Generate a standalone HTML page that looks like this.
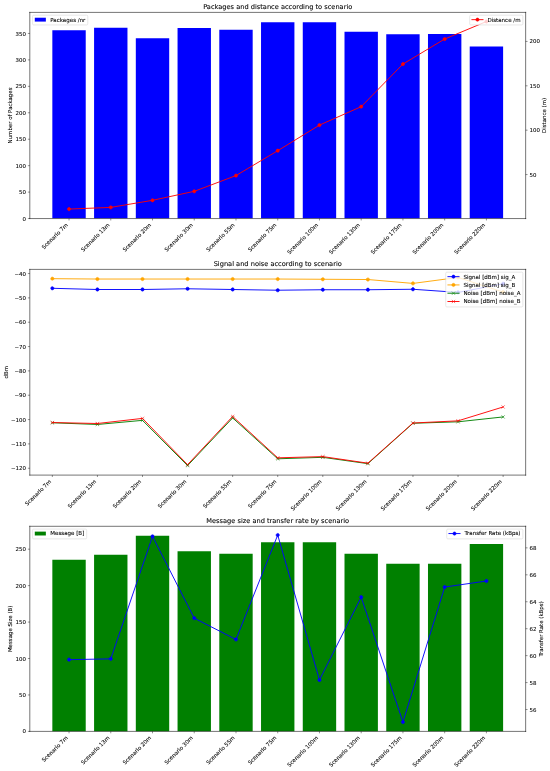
<!DOCTYPE html>
<html lang="en">
<head>
<meta charset="utf-8">
<title>Scenario charts</title>
<style>
html,body{margin:0;padding:0;background:#fff;}
body{width:550px;height:771px;overflow:hidden;font-family:"DejaVu Sans","Liberation Sans",sans-serif;}
svg{display:block;position:absolute;left:0;top:0;}
svg text{font-family:"DejaVu Sans","Liberation Sans",sans-serif;stroke:#000;stroke-width:0.15px;}
</style>
</head>
<body>
<svg width="550" height="771" viewBox="0 0 1008.0 1413.0327272727275" preserveAspectRatio="none">
 <defs>
  <style type="text/css">*{stroke-linejoin: round; stroke-linecap: butt}</style>
 </defs>
 <g id="figure_1">
  <g id="patch_1">
   <path d="M 0 1413.032727 
L 1008 1413.032727 
L 1008 0 
L 0 0 
z
" style="fill: #ffffff"/>
  </g>
  <g id="axes_1">
   <g id="patch_2">
    <path d="M 54.615273 400.542545 
L 963.373091 400.542545 
L 963.373091 22.725818 
L 54.615273 22.725818 
z
" style="fill: #ffffff"/>
   </g>
   <g id="patch_3">
    <path d="M 95.922446 400.542545 
L 157.118259 400.542545 
L 157.118259 55.486735 
L 95.922446 55.486735 
z
" clip-path="url(#pcf4a3bb9f0)" style="fill: #0000ff"/>
   </g>
   <g id="patch_4">
    <path d="M 172.417212 400.542545 
L 233.613025 400.542545 
L 233.613025 50.640446 
L 172.417212 50.640446 
z
" clip-path="url(#pcf4a3bb9f0)" style="fill: #0000ff"/>
   </g>
   <g id="patch_5">
    <path d="M 248.911978 400.542545 
L 310.107791 400.542545 
L 310.107791 70.025603 
L 248.911978 70.025603 
z
" clip-path="url(#pcf4a3bb9f0)" style="fill: #0000ff"/>
   </g>
   <g id="patch_6">
    <path d="M 325.406744 400.542545 
L 386.602556 400.542545 
L 386.602556 51.512778 
L 325.406744 51.512778 
z
" clip-path="url(#pcf4a3bb9f0)" style="fill: #0000ff"/>
   </g>
   <g id="patch_7">
    <path d="M 401.90151 400.542545 
L 463.097322 400.542545 
L 463.097322 54.711329 
L 401.90151 54.711329 
z
" clip-path="url(#pcf4a3bb9f0)" style="fill: #0000ff"/>
   </g>
   <g id="patch_8">
    <path d="M 478.396275 400.542545 
L 539.592088 400.542545 
L 539.592088 40.754015 
L 478.396275 40.754015 
z
" clip-path="url(#pcf4a3bb9f0)" style="fill: #0000ff"/>
   </g>
   <g id="patch_9">
    <path d="M 554.891041 400.542545 
L 616.086854 400.542545 
L 616.086854 40.754015 
L 554.891041 40.754015 
z
" clip-path="url(#pcf4a3bb9f0)" style="fill: #0000ff"/>
   </g>
   <g id="patch_10">
    <path d="M 631.385807 400.542545 
L 692.58162 400.542545 
L 692.58162 58.394509 
L 631.385807 58.394509 
z
" clip-path="url(#pcf4a3bb9f0)" style="fill: #0000ff"/>
   </g>
   <g id="patch_11">
    <path d="M 707.880573 400.542545 
L 769.076386 400.542545 
L 769.076386 62.853095 
L 707.880573 62.853095 
z
" clip-path="url(#pcf4a3bb9f0)" style="fill: #0000ff"/>
   </g>
   <g id="patch_12">
    <path d="M 784.375339 400.542545 
L 845.571152 400.542545 
L 845.571152 62.27154 
L 784.375339 62.27154 
z
" clip-path="url(#pcf4a3bb9f0)" style="fill: #0000ff"/>
   </g>
   <g id="patch_13">
    <path d="M 860.870105 400.542545 
L 922.065917 400.542545 
L 922.065917 85.242952 
L 860.870105 85.242952 
z
" clip-path="url(#pcf4a3bb9f0)" style="fill: #0000ff"/>
   </g>
   <g id="matplotlib.axis_1">
    <g id="xtick_1">
     <g id="line2d_1">
      <g>
       <path d="M 0 0 L 0 3.5" transform="translate(126.520353 400.542545)" style="stroke: #000000; stroke-width: 0.8; stroke: #000000; stroke-width: 0.8"/>
      </g>
     </g>
     <g id="text_1">
      <text style="font-size: 10px; font-family: 'DejaVu Sans', 'Liberation Sans', sans-serif" transform="translate(80.675526 457.289717) rotate(-45)">Scenario 7m</text>
     </g>
    </g>
    <g id="xtick_2">
     <g id="line2d_2">
      <g>
       <path d="M 0 0 L 0 3.5" transform="translate(203.015118 400.542545)" style="stroke: #000000; stroke-width: 0.8; stroke: #000000; stroke-width: 0.8"/>
      </g>
     </g>
     <g id="text_2">
      <text style="font-size: 10px; font-family: 'DejaVu Sans', 'Liberation Sans', sans-serif" transform="translate(152.671325 461.788684) rotate(-45)">Scenario 13m</text>
     </g>
    </g>
    <g id="xtick_3">
     <g id="line2d_3">
      <g>
       <path d="M 0 0 L 0 3.5" transform="translate(279.509884 400.542545)" style="stroke: #000000; stroke-width: 0.8; stroke: #000000; stroke-width: 0.8"/>
      </g>
     </g>
     <g id="text_3">
      <text style="font-size: 10px; font-family: 'DejaVu Sans', 'Liberation Sans', sans-serif" transform="translate(229.166091 461.788684) rotate(-45)">Scenario 20m</text>
     </g>
    </g>
    <g id="xtick_4">
     <g id="line2d_4">
      <g>
       <path d="M 0 0 L 0 3.5" transform="translate(356.00465 400.542545)" style="stroke: #000000; stroke-width: 0.8; stroke: #000000; stroke-width: 0.8"/>
      </g>
     </g>
     <g id="text_4">
      <text style="font-size: 10px; font-family: 'DejaVu Sans', 'Liberation Sans', sans-serif" transform="translate(305.660857 461.788684) rotate(-45)">Scenario 30m</text>
     </g>
    </g>
    <g id="xtick_5">
     <g id="line2d_5">
      <g>
       <path d="M 0 0 L 0 3.5" transform="translate(432.499416 400.542545)" style="stroke: #000000; stroke-width: 0.8; stroke: #000000; stroke-width: 0.8"/>
      </g>
     </g>
     <g id="text_5">
      <text style="font-size: 10px; font-family: 'DejaVu Sans', 'Liberation Sans', sans-serif" transform="translate(382.155623 461.788684) rotate(-45)">Scenario 55m</text>
     </g>
    </g>
    <g id="xtick_6">
     <g id="line2d_6">
      <g>
       <path d="M 0 0 L 0 3.5" transform="translate(508.994182 400.542545)" style="stroke: #000000; stroke-width: 0.8; stroke: #000000; stroke-width: 0.8"/>
      </g>
     </g>
     <g id="text_6">
      <text style="font-size: 10px; font-family: 'DejaVu Sans', 'Liberation Sans', sans-serif" transform="translate(458.650389 461.788684) rotate(-45)">Scenario 75m</text>
     </g>
    </g>
    <g id="xtick_7">
     <g id="line2d_7">
      <g>
       <path d="M 0 0 L 0 3.5" transform="translate(585.488948 400.542545)" style="stroke: #000000; stroke-width: 0.8; stroke: #000000; stroke-width: 0.8"/>
      </g>
     </g>
     <g id="text_7">
      <text style="font-size: 10px; font-family: 'DejaVu Sans', 'Liberation Sans', sans-serif" transform="translate(530.646188 466.287651) rotate(-45)">Scenario 100m</text>
     </g>
    </g>
    <g id="xtick_8">
     <g id="line2d_8">
      <g>
       <path d="M 0 0 L 0 3.5" transform="translate(661.983713 400.542545)" style="stroke: #000000; stroke-width: 0.8; stroke: #000000; stroke-width: 0.8"/>
      </g>
     </g>
     <g id="text_8">
      <text style="font-size: 10px; font-family: 'DejaVu Sans', 'Liberation Sans', sans-serif" transform="translate(607.140953 466.287651) rotate(-45)">Scenario 130m</text>
     </g>
    </g>
    <g id="xtick_9">
     <g id="line2d_9">
      <g>
       <path d="M 0 0 L 0 3.5" transform="translate(738.478479 400.542545)" style="stroke: #000000; stroke-width: 0.8; stroke: #000000; stroke-width: 0.8"/>
      </g>
     </g>
     <g id="text_9">
      <text style="font-size: 10px; font-family: 'DejaVu Sans', 'Liberation Sans', sans-serif" transform="translate(683.635719 466.287651) rotate(-45)">Scenario 175m</text>
     </g>
    </g>
    <g id="xtick_10">
     <g id="line2d_10">
      <g>
       <path d="M 0 0 L 0 3.5" transform="translate(814.973245 400.542545)" style="stroke: #000000; stroke-width: 0.8; stroke: #000000; stroke-width: 0.8"/>
      </g>
     </g>
     <g id="text_10">
      <text style="font-size: 10px; font-family: 'DejaVu Sans', 'Liberation Sans', sans-serif" transform="translate(760.130485 466.287651) rotate(-45)">Scenario 200m</text>
     </g>
    </g>
    <g id="xtick_11">
     <g id="line2d_11">
      <g>
       <path d="M 0 0 L 0 3.5" transform="translate(891.468011 400.542545)" style="stroke: #000000; stroke-width: 0.8; stroke: #000000; stroke-width: 0.8"/>
      </g>
     </g>
     <g id="text_11">
      <text style="font-size: 10px; font-family: 'DejaVu Sans', 'Liberation Sans', sans-serif" transform="translate(836.625251 466.287651) rotate(-45)">Scenario 220m</text>
     </g>
    </g>
   </g>
   <g id="matplotlib.axis_2">
    <g id="ytick_1">
     <g id="line2d_12">
      <g>
       <path d="M 0 0 L -3.5 0" transform="translate(54.615273 400.542545)" style="stroke: #000000; stroke-width: 0.8; stroke: #000000; stroke-width: 0.8"/>
      </g>
     </g>
     <g id="text_12">
      <text style="font-size: 10px; font-family: 'DejaVu Sans', 'Liberation Sans', sans-serif; text-anchor: end" x="47.615273" y="404.341764" transform="rotate(-0 47.615273 404.341764)">0</text>
     </g>
    </g>
    <g id="ytick_2">
     <g id="line2d_13">
      <g>
       <path d="M 0 0 L -3.5 0" transform="translate(54.615273 352.079651)" style="stroke: #000000; stroke-width: 0.8; stroke: #000000; stroke-width: 0.8"/>
      </g>
     </g>
     <g id="text_13">
      <text style="font-size: 10px; font-family: 'DejaVu Sans', 'Liberation Sans', sans-serif; text-anchor: end" x="47.615273" y="355.878869" transform="rotate(-0 47.615273 355.878869)">50</text>
     </g>
    </g>
    <g id="ytick_3">
     <g id="line2d_14">
      <g>
       <path d="M 0 0 L -3.5 0" transform="translate(54.615273 303.616756)" style="stroke: #000000; stroke-width: 0.8; stroke: #000000; stroke-width: 0.8"/>
      </g>
     </g>
     <g id="text_14">
      <text style="font-size: 10px; font-family: 'DejaVu Sans', 'Liberation Sans', sans-serif; text-anchor: end" x="47.615273" y="307.415975" transform="rotate(-0 47.615273 307.415975)">100</text>
     </g>
    </g>
    <g id="ytick_4">
     <g id="line2d_15">
      <g>
       <path d="M 0 0 L -3.5 0" transform="translate(54.615273 255.153861)" style="stroke: #000000; stroke-width: 0.8; stroke: #000000; stroke-width: 0.8"/>
      </g>
     </g>
     <g id="text_15">
      <text style="font-size: 10px; font-family: 'DejaVu Sans', 'Liberation Sans', sans-serif; text-anchor: end" x="47.615273" y="258.95308" transform="rotate(-0 47.615273 258.95308)">150</text>
     </g>
    </g>
    <g id="ytick_5">
     <g id="line2d_16">
      <g>
       <path d="M 0 0 L -3.5 0" transform="translate(54.615273 206.690967)" style="stroke: #000000; stroke-width: 0.8; stroke: #000000; stroke-width: 0.8"/>
      </g>
     </g>
     <g id="text_16">
      <text style="font-size: 10px; font-family: 'DejaVu Sans', 'Liberation Sans', sans-serif; text-anchor: end" x="47.615273" y="210.490185" transform="rotate(-0 47.615273 210.490185)">200</text>
     </g>
    </g>
    <g id="ytick_6">
     <g id="line2d_17">
      <g>
       <path d="M 0 0 L -3.5 0" transform="translate(54.615273 158.228072)" style="stroke: #000000; stroke-width: 0.8; stroke: #000000; stroke-width: 0.8"/>
      </g>
     </g>
     <g id="text_17">
      <text style="font-size: 10px; font-family: 'DejaVu Sans', 'Liberation Sans', sans-serif; text-anchor: end" x="47.615273" y="162.027291" transform="rotate(-0 47.615273 162.027291)">250</text>
     </g>
    </g>
    <g id="ytick_7">
     <g id="line2d_18">
      <g>
       <path d="M 0 0 L -3.5 0" transform="translate(54.615273 109.765177)" style="stroke: #000000; stroke-width: 0.8; stroke: #000000; stroke-width: 0.8"/>
      </g>
     </g>
     <g id="text_18">
      <text style="font-size: 10px; font-family: 'DejaVu Sans', 'Liberation Sans', sans-serif; text-anchor: end" x="47.615273" y="113.564396" transform="rotate(-0 47.615273 113.564396)">300</text>
     </g>
    </g>
    <g id="ytick_8">
     <g id="line2d_19">
      <g>
       <path d="M 0 0 L -3.5 0" transform="translate(54.615273 61.302282)" style="stroke: #000000; stroke-width: 0.8; stroke: #000000; stroke-width: 0.8"/>
      </g>
     </g>
     <g id="text_19">
      <text style="font-size: 10px; font-family: 'DejaVu Sans', 'Liberation Sans', sans-serif; text-anchor: end" x="47.615273" y="65.101501" transform="rotate(-0 47.615273 65.101501)">350</text>
     </g>
    </g>
    <g id="text_20">
     <text style="font-size: 10px; font-family: 'DejaVu Sans', 'Liberation Sans', sans-serif; text-anchor: middle" x="22.448085" y="211.634182" transform="rotate(-90 22.448085 211.634182)">Number of Packages</text>
    </g>
   </g>
   <g id="patch_14">
    <path d="M 54.615273 400.542545 
L 54.615273 22.725818 
" style="fill: none; stroke: #000000; stroke-linejoin: miter; stroke-linecap: square"/>
   </g>
   <g id="patch_15">
    <path d="M 963.373091 400.542545 
L 963.373091 22.725818 
" style="fill: none; stroke: #000000; stroke-linejoin: miter; stroke-linecap: square"/>
   </g>
   <g id="patch_16">
    <path d="M 54.615273 400.542545 
L 963.373091 400.542545 
" style="fill: none; stroke: #000000; stroke-linejoin: miter; stroke-linecap: square"/>
   </g>
   <g id="patch_17">
    <path d="M 54.615273 22.725818 
L 963.373091 22.725818 
" style="fill: none; stroke: #000000; stroke-linejoin: miter; stroke-linecap: square"/>
   </g>
   <g id="text_21">
    <text style="font-size: 12.18px; font-family: 'DejaVu Sans', 'Liberation Sans', sans-serif; text-anchor: middle" x="508.994182" y="16.725818" transform="rotate(-0 508.994182 16.725818)">Packages and distance according to scenario</text>
   </g>
   <g id="legend_1">
    <g id="patch_18">
     <path d="M 61.720273 45.744115 
L 158.811366 45.744115 
Q 160.841366 45.744115 160.841366 43.714115 
L 160.841366 29.830818 
Q 160.841366 27.800818 158.811366 27.800818 
L 61.720273 27.800818 
Q 59.690273 27.800818 59.690273 29.830818 
L 59.690273 43.714115 
Q 59.690273 45.744115 61.720273 45.744115 
z
" style="fill: #ffffff; opacity: 0.8; stroke: #cccccc; stroke-linejoin: miter"/>
    </g>
    <g id="patch_19">
     <path d="M 63.750273 39.573232 
L 84.050273 39.573232 
L 84.050273 32.468232 
L 63.750273 32.468232 
z
" style="fill: #0000ff"/>
    </g>
    <g id="text_22">
     <text style="font-size: 10.15px; font-family: 'DejaVu Sans', 'Liberation Sans', sans-serif; text-anchor: start" x="92.170273" y="39.573232" transform="rotate(-0 92.170273 39.573232)">Packages /nr</text>
    </g>
   </g>
  </g>
  <g id="axes_2">
   <g id="matplotlib.axis_3">
    <g id="ytick_9">
     <g id="line2d_20">
      <g>
       <path d="M 0 0 L 3.5 0" transform="translate(963.373091 319.923425)" style="stroke: #000000; stroke-width: 0.8; stroke: #000000; stroke-width: 0.8"/>
      </g>
     </g>
     <g id="text_23">
      <text style="font-size: 10px; font-family: 'DejaVu Sans', 'Liberation Sans', sans-serif; text-anchor: start" x="970.373091" y="323.722643" transform="rotate(-0 970.373091 323.722643)">50</text>
     </g>
    </g>
    <g id="ytick_10">
     <g id="line2d_21">
      <g>
       <path d="M 0 0 L 3.5 0" transform="translate(963.373091 238.588557)" style="stroke: #000000; stroke-width: 0.8; stroke: #000000; stroke-width: 0.8"/>
      </g>
     </g>
     <g id="text_24">
      <text style="font-size: 10px; font-family: 'DejaVu Sans', 'Liberation Sans', sans-serif; text-anchor: start" x="970.373091" y="242.387776" transform="rotate(-0 970.373091 242.387776)">100</text>
     </g>
    </g>
    <g id="ytick_11">
     <g id="line2d_22">
      <g>
       <path d="M 0 0 L 3.5 0" transform="translate(963.373091 157.253689)" style="stroke: #000000; stroke-width: 0.8; stroke: #000000; stroke-width: 0.8"/>
      </g>
     </g>
     <g id="text_25">
      <text style="font-size: 10px; font-family: 'DejaVu Sans', 'Liberation Sans', sans-serif; text-anchor: start" x="970.373091" y="161.052908" transform="rotate(-0 970.373091 161.052908)">150</text>
     </g>
    </g>
    <g id="ytick_12">
     <g id="line2d_23">
      <g>
       <path d="M 0 0 L 3.5 0" transform="translate(963.373091 75.918822)" style="stroke: #000000; stroke-width: 0.8; stroke: #000000; stroke-width: 0.8"/>
      </g>
     </g>
     <g id="text_26">
      <text style="font-size: 10px; font-family: 'DejaVu Sans', 'Liberation Sans', sans-serif; text-anchor: start" x="970.373091" y="79.71804" transform="rotate(-0 970.373091 79.71804)">200</text>
     </g>
    </g>
    <g id="text_27">
     <text style="font-size: 10px; font-family: 'DejaVu Sans', 'Liberation Sans', sans-serif; text-anchor: middle" x="1001.059028" y="211.634182" transform="rotate(-90 1001.059028 211.634182)">Distance (m)</text>
    </g>
   </g>
   <g id="line2d_24">
    <path d="M 126.520353 383.201952 
L 203.015118 380.111227 
L 279.509884 367.097648 
L 356.00465 350.668005 
L 432.499416 321.794127 
L 508.994182 276.246601 
L 585.488948 229.316382 
L 661.983713 195.481077 
L 738.478479 117.399604 
L 814.973245 71.526739 
L 891.468011 39.480801 
" clip-path="url(#p16bc7cfb53)" style="fill: none; stroke: #ff0000; stroke-width: 1.7; stroke-linecap: square"/>
    <g clip-path="url(#p16bc7cfb53)">
     <path d="M 0 3 C 0.795609 3 1.55874 2.683901 2.12132 2.12132 C 2.683901 1.55874 3 0.795609 3 0 C 3 -0.795609 2.683901 -1.55874 2.12132 -2.12132 C 1.55874 -2.683901 0.795609 -3 0 -3 C -0.795609 -3 -1.55874 -2.683901 -2.12132 -2.12132 C -2.683901 -1.55874 -3 -0.795609 -3 0 C -3 0.795609 -2.683901 1.55874 -2.12132 2.12132 C -1.55874 2.683901 -0.795609 3 0 3 z" transform="translate(126.520353 383.201952)" style="stroke: #ff0000; fill: #ff0000; stroke: #ff0000"/>
     <path d="M 0 3 C 0.795609 3 1.55874 2.683901 2.12132 2.12132 C 2.683901 1.55874 3 0.795609 3 0 C 3 -0.795609 2.683901 -1.55874 2.12132 -2.12132 C 1.55874 -2.683901 0.795609 -3 0 -3 C -0.795609 -3 -1.55874 -2.683901 -2.12132 -2.12132 C -2.683901 -1.55874 -3 -0.795609 -3 0 C -3 0.795609 -2.683901 1.55874 -2.12132 2.12132 C -1.55874 2.683901 -0.795609 3 0 3 z" transform="translate(203.015118 380.111227)" style="stroke: #ff0000; fill: #ff0000; stroke: #ff0000"/>
     <path d="M 0 3 C 0.795609 3 1.55874 2.683901 2.12132 2.12132 C 2.683901 1.55874 3 0.795609 3 0 C 3 -0.795609 2.683901 -1.55874 2.12132 -2.12132 C 1.55874 -2.683901 0.795609 -3 0 -3 C -0.795609 -3 -1.55874 -2.683901 -2.12132 -2.12132 C -2.683901 -1.55874 -3 -0.795609 -3 0 C -3 0.795609 -2.683901 1.55874 -2.12132 2.12132 C -1.55874 2.683901 -0.795609 3 0 3 z" transform="translate(279.509884 367.097648)" style="stroke: #ff0000; fill: #ff0000; stroke: #ff0000"/>
     <path d="M 0 3 C 0.795609 3 1.55874 2.683901 2.12132 2.12132 C 2.683901 1.55874 3 0.795609 3 0 C 3 -0.795609 2.683901 -1.55874 2.12132 -2.12132 C 1.55874 -2.683901 0.795609 -3 0 -3 C -0.795609 -3 -1.55874 -2.683901 -2.12132 -2.12132 C -2.683901 -1.55874 -3 -0.795609 -3 0 C -3 0.795609 -2.683901 1.55874 -2.12132 2.12132 C -1.55874 2.683901 -0.795609 3 0 3 z" transform="translate(356.00465 350.668005)" style="stroke: #ff0000; fill: #ff0000; stroke: #ff0000"/>
     <path d="M 0 3 C 0.795609 3 1.55874 2.683901 2.12132 2.12132 C 2.683901 1.55874 3 0.795609 3 0 C 3 -0.795609 2.683901 -1.55874 2.12132 -2.12132 C 1.55874 -2.683901 0.795609 -3 0 -3 C -0.795609 -3 -1.55874 -2.683901 -2.12132 -2.12132 C -2.683901 -1.55874 -3 -0.795609 -3 0 C -3 0.795609 -2.683901 1.55874 -2.12132 2.12132 C -1.55874 2.683901 -0.795609 3 0 3 z" transform="translate(432.499416 321.794127)" style="stroke: #ff0000; fill: #ff0000; stroke: #ff0000"/>
     <path d="M 0 3 C 0.795609 3 1.55874 2.683901 2.12132 2.12132 C 2.683901 1.55874 3 0.795609 3 0 C 3 -0.795609 2.683901 -1.55874 2.12132 -2.12132 C 1.55874 -2.683901 0.795609 -3 0 -3 C -0.795609 -3 -1.55874 -2.683901 -2.12132 -2.12132 C -2.683901 -1.55874 -3 -0.795609 -3 0 C -3 0.795609 -2.683901 1.55874 -2.12132 2.12132 C -1.55874 2.683901 -0.795609 3 0 3 z" transform="translate(508.994182 276.246601)" style="stroke: #ff0000; fill: #ff0000; stroke: #ff0000"/>
     <path d="M 0 3 C 0.795609 3 1.55874 2.683901 2.12132 2.12132 C 2.683901 1.55874 3 0.795609 3 0 C 3 -0.795609 2.683901 -1.55874 2.12132 -2.12132 C 1.55874 -2.683901 0.795609 -3 0 -3 C -0.795609 -3 -1.55874 -2.683901 -2.12132 -2.12132 C -2.683901 -1.55874 -3 -0.795609 -3 0 C -3 0.795609 -2.683901 1.55874 -2.12132 2.12132 C -1.55874 2.683901 -0.795609 3 0 3 z" transform="translate(585.488948 229.316382)" style="stroke: #ff0000; fill: #ff0000; stroke: #ff0000"/>
     <path d="M 0 3 C 0.795609 3 1.55874 2.683901 2.12132 2.12132 C 2.683901 1.55874 3 0.795609 3 0 C 3 -0.795609 2.683901 -1.55874 2.12132 -2.12132 C 1.55874 -2.683901 0.795609 -3 0 -3 C -0.795609 -3 -1.55874 -2.683901 -2.12132 -2.12132 C -2.683901 -1.55874 -3 -0.795609 -3 0 C -3 0.795609 -2.683901 1.55874 -2.12132 2.12132 C -1.55874 2.683901 -0.795609 3 0 3 z" transform="translate(661.983713 195.481077)" style="stroke: #ff0000; fill: #ff0000; stroke: #ff0000"/>
     <path d="M 0 3 C 0.795609 3 1.55874 2.683901 2.12132 2.12132 C 2.683901 1.55874 3 0.795609 3 0 C 3 -0.795609 2.683901 -1.55874 2.12132 -2.12132 C 1.55874 -2.683901 0.795609 -3 0 -3 C -0.795609 -3 -1.55874 -2.683901 -2.12132 -2.12132 C -2.683901 -1.55874 -3 -0.795609 -3 0 C -3 0.795609 -2.683901 1.55874 -2.12132 2.12132 C -1.55874 2.683901 -0.795609 3 0 3 z" transform="translate(738.478479 117.399604)" style="stroke: #ff0000; fill: #ff0000; stroke: #ff0000"/>
     <path d="M 0 3 C 0.795609 3 1.55874 2.683901 2.12132 2.12132 C 2.683901 1.55874 3 0.795609 3 0 C 3 -0.795609 2.683901 -1.55874 2.12132 -2.12132 C 1.55874 -2.683901 0.795609 -3 0 -3 C -0.795609 -3 -1.55874 -2.683901 -2.12132 -2.12132 C -2.683901 -1.55874 -3 -0.795609 -3 0 C -3 0.795609 -2.683901 1.55874 -2.12132 2.12132 C -1.55874 2.683901 -0.795609 3 0 3 z" transform="translate(814.973245 71.526739)" style="stroke: #ff0000; fill: #ff0000; stroke: #ff0000"/>
     <path d="M 0 3 C 0.795609 3 1.55874 2.683901 2.12132 2.12132 C 2.683901 1.55874 3 0.795609 3 0 C 3 -0.795609 2.683901 -1.55874 2.12132 -2.12132 C 1.55874 -2.683901 0.795609 -3 0 -3 C -0.795609 -3 -1.55874 -2.683901 -2.12132 -2.12132 C -2.683901 -1.55874 -3 -0.795609 -3 0 C -3 0.795609 -2.683901 1.55874 -2.12132 2.12132 C -1.55874 2.683901 -0.795609 3 0 3 z" transform="translate(891.468011 39.480801)" style="stroke: #ff0000; fill: #ff0000; stroke: #ff0000"/>
    </g>
   </g>
   <g id="legend_2">
    <g id="patch_20">
     <path d="M 862.875403 45.744115 
L 956.268091 45.744115 
Q 958.298091 45.744115 958.298091 43.714115 
L 958.298091 29.830818 
Q 958.298091 27.800818 956.268091 27.800818 
L 862.875403 27.800818 
Q 860.845403 27.800818 860.845403 29.830818 
L 860.845403 43.714115 
Q 860.845403 45.744115 862.875403 45.744115 
z
" style="fill: #ffffff; opacity: 0.8; stroke: #cccccc; stroke-linejoin: miter"/>
    </g>
    <g id="line2d_25">
     <path d="M 864.905403 36.020732 
L 875.055403 36.020732 
L 885.205403 36.020732 
" style="fill: none; stroke: #ff0000; stroke-width: 1.7; stroke-linecap: square"/>
     <g>
      <path d="M 0 3 C 0.795609 3 1.55874 2.683901 2.12132 2.12132 C 2.683901 1.55874 3 0.795609 3 0 C 3 -0.795609 2.683901 -1.55874 2.12132 -2.12132 C 1.55874 -2.683901 0.795609 -3 0 -3 C -0.795609 -3 -1.55874 -2.683901 -2.12132 -2.12132 C -2.683901 -1.55874 -3 -0.795609 -3 0 C -3 0.795609 -2.683901 1.55874 -2.12132 2.12132 C -1.55874 2.683901 -0.795609 3 0 3 z" transform="translate(875.055403 36.020732)" style="stroke: #ff0000; fill: #ff0000; stroke: #ff0000"/>
     </g>
    </g>
    <g id="text_28">
     <text style="font-size: 10.15px; font-family: 'DejaVu Sans', 'Liberation Sans', sans-serif; text-anchor: start" x="893.325403" y="39.573232" transform="rotate(-0 893.325403 39.573232)">Distance /m</text>
    </g>
   </g>
  </g>
  <g id="axes_3">
   <g id="patch_21">
    <path d="M 54.615273 870.728727 
L 963.373091 870.728727 
L 963.373091 493.736727 
L 54.615273 493.736727 
z
" style="fill: #ffffff"/>
   </g>
   <g id="matplotlib.axis_4">
    <g id="xtick_12">
     <g id="line2d_26">
      <g>
       <path d="M 0 0 L 0 3.5" transform="translate(95.922446 870.728727)" style="stroke: #000000; stroke-width: 0.8; stroke: #000000; stroke-width: 0.8"/>
      </g>
     </g>
     <g id="text_29">
      <text style="font-size: 10px; font-family: 'DejaVu Sans', 'Liberation Sans', sans-serif" transform="translate(50.07762 927.475899) rotate(-45)">Scenario 7m</text>
     </g>
    </g>
    <g id="xtick_13">
     <g id="line2d_27">
      <g>
       <path d="M 0 0 L 0 3.5" transform="translate(178.536793 870.728727)" style="stroke: #000000; stroke-width: 0.8; stroke: #000000; stroke-width: 0.8"/>
      </g>
     </g>
     <g id="text_30">
      <text style="font-size: 10px; font-family: 'DejaVu Sans', 'Liberation Sans', sans-serif" transform="translate(128.193 931.974866) rotate(-45)">Scenario 13m</text>
     </g>
    </g>
    <g id="xtick_14">
     <g id="line2d_28">
      <g>
       <path d="M 0 0 L 0 3.5" transform="translate(261.15114 870.728727)" style="stroke: #000000; stroke-width: 0.8; stroke: #000000; stroke-width: 0.8"/>
      </g>
     </g>
     <g id="text_31">
      <text style="font-size: 10px; font-family: 'DejaVu Sans', 'Liberation Sans', sans-serif" transform="translate(210.807347 931.974866) rotate(-45)">Scenario 20m</text>
     </g>
    </g>
    <g id="xtick_15">
     <g id="line2d_29">
      <g>
       <path d="M 0 0 L 0 3.5" transform="translate(343.765488 870.728727)" style="stroke: #000000; stroke-width: 0.8; stroke: #000000; stroke-width: 0.8"/>
      </g>
     </g>
     <g id="text_32">
      <text style="font-size: 10px; font-family: 'DejaVu Sans', 'Liberation Sans', sans-serif" transform="translate(293.421694 931.974866) rotate(-45)">Scenario 30m</text>
     </g>
    </g>
    <g id="xtick_16">
     <g id="line2d_30">
      <g>
       <path d="M 0 0 L 0 3.5" transform="translate(426.379835 870.728727)" style="stroke: #000000; stroke-width: 0.8; stroke: #000000; stroke-width: 0.8"/>
      </g>
     </g>
     <g id="text_33">
      <text style="font-size: 10px; font-family: 'DejaVu Sans', 'Liberation Sans', sans-serif" transform="translate(376.036042 931.974866) rotate(-45)">Scenario 55m</text>
     </g>
    </g>
    <g id="xtick_17">
     <g id="line2d_31">
      <g>
       <path d="M 0 0 L 0 3.5" transform="translate(508.994182 870.728727)" style="stroke: #000000; stroke-width: 0.8; stroke: #000000; stroke-width: 0.8"/>
      </g>
     </g>
     <g id="text_34">
      <text style="font-size: 10px; font-family: 'DejaVu Sans', 'Liberation Sans', sans-serif" transform="translate(458.650389 931.974866) rotate(-45)">Scenario 75m</text>
     </g>
    </g>
    <g id="xtick_18">
     <g id="line2d_32">
      <g>
       <path d="M 0 0 L 0 3.5" transform="translate(591.608529 870.728727)" style="stroke: #000000; stroke-width: 0.8; stroke: #000000; stroke-width: 0.8"/>
      </g>
     </g>
     <g id="text_35">
      <text style="font-size: 10px; font-family: 'DejaVu Sans', 'Liberation Sans', sans-serif" transform="translate(536.765769 936.473833) rotate(-45)">Scenario 100m</text>
     </g>
    </g>
    <g id="xtick_19">
     <g id="line2d_33">
      <g>
       <path d="M 0 0 L 0 3.5" transform="translate(674.222876 870.728727)" style="stroke: #000000; stroke-width: 0.8; stroke: #000000; stroke-width: 0.8"/>
      </g>
     </g>
     <g id="text_36">
      <text style="font-size: 10px; font-family: 'DejaVu Sans', 'Liberation Sans', sans-serif" transform="translate(619.380116 936.473833) rotate(-45)">Scenario 130m</text>
     </g>
    </g>
    <g id="xtick_20">
     <g id="line2d_34">
      <g>
       <path d="M 0 0 L 0 3.5" transform="translate(756.837223 870.728727)" style="stroke: #000000; stroke-width: 0.8; stroke: #000000; stroke-width: 0.8"/>
      </g>
     </g>
     <g id="text_37">
      <text style="font-size: 10px; font-family: 'DejaVu Sans', 'Liberation Sans', sans-serif" transform="translate(701.994463 936.473833) rotate(-45)">Scenario 175m</text>
     </g>
    </g>
    <g id="xtick_21">
     <g id="line2d_35">
      <g>
       <path d="M 0 0 L 0 3.5" transform="translate(839.45157 870.728727)" style="stroke: #000000; stroke-width: 0.8; stroke: #000000; stroke-width: 0.8"/>
      </g>
     </g>
     <g id="text_38">
      <text style="font-size: 10px; font-family: 'DejaVu Sans', 'Liberation Sans', sans-serif" transform="translate(784.60881 936.473833) rotate(-45)">Scenario 200m</text>
     </g>
    </g>
    <g id="xtick_22">
     <g id="line2d_36">
      <g>
       <path d="M 0 0 L 0 3.5" transform="translate(922.065917 870.728727)" style="stroke: #000000; stroke-width: 0.8; stroke: #000000; stroke-width: 0.8"/>
      </g>
     </g>
     <g id="text_39">
      <text style="font-size: 10px; font-family: 'DejaVu Sans', 'Liberation Sans', sans-serif" transform="translate(867.223157 936.473833) rotate(-45)">Scenario 220m</text>
     </g>
    </g>
   </g>
   <g id="matplotlib.axis_5">
    <g id="ytick_13">
     <g id="line2d_37">
      <g>
       <path d="M 0 0 L -3.5 0" transform="translate(54.615273 858.151921)" style="stroke: #000000; stroke-width: 0.8; stroke: #000000; stroke-width: 0.8"/>
      </g>
     </g>
     <g id="text_40">
      <text style="font-size: 10px; font-family: 'DejaVu Sans', 'Liberation Sans', sans-serif; text-anchor: end" x="47.615273" y="861.95114" transform="rotate(-0 47.615273 861.95114)">−120</text>
     </g>
    </g>
    <g id="ytick_14">
     <g id="line2d_38">
      <g>
       <path d="M 0 0 L -3.5 0" transform="translate(54.615273 813.553317)" style="stroke: #000000; stroke-width: 0.8; stroke: #000000; stroke-width: 0.8"/>
      </g>
     </g>
     <g id="text_41">
      <text style="font-size: 10px; font-family: 'DejaVu Sans', 'Liberation Sans', sans-serif; text-anchor: end" x="47.615273" y="817.352536" transform="rotate(-0 47.615273 817.352536)">−110</text>
     </g>
    </g>
    <g id="ytick_15">
     <g id="line2d_39">
      <g>
       <path d="M 0 0 L -3.5 0" transform="translate(54.615273 768.954713)" style="stroke: #000000; stroke-width: 0.8; stroke: #000000; stroke-width: 0.8"/>
      </g>
     </g>
     <g id="text_42">
      <text style="font-size: 10px; font-family: 'DejaVu Sans', 'Liberation Sans', sans-serif; text-anchor: end" x="47.615273" y="772.753932" transform="rotate(-0 47.615273 772.753932)">−100</text>
     </g>
    </g>
    <g id="ytick_16">
     <g id="line2d_40">
      <g>
       <path d="M 0 0 L -3.5 0" transform="translate(54.615273 724.356109)" style="stroke: #000000; stroke-width: 0.8; stroke: #000000; stroke-width: 0.8"/>
      </g>
     </g>
     <g id="text_43">
      <text style="font-size: 10px; font-family: 'DejaVu Sans', 'Liberation Sans', sans-serif; text-anchor: end" x="47.615273" y="728.155328" transform="rotate(-0 47.615273 728.155328)">−90</text>
     </g>
    </g>
    <g id="ytick_17">
     <g id="line2d_41">
      <g>
       <path d="M 0 0 L -3.5 0" transform="translate(54.615273 679.757505)" style="stroke: #000000; stroke-width: 0.8; stroke: #000000; stroke-width: 0.8"/>
      </g>
     </g>
     <g id="text_44">
      <text style="font-size: 10px; font-family: 'DejaVu Sans', 'Liberation Sans', sans-serif; text-anchor: end" x="47.615273" y="683.556723" transform="rotate(-0 47.615273 683.556723)">−80</text>
     </g>
    </g>
    <g id="ytick_18">
     <g id="line2d_42">
      <g>
       <path d="M 0 0 L -3.5 0" transform="translate(54.615273 635.158901)" style="stroke: #000000; stroke-width: 0.8; stroke: #000000; stroke-width: 0.8"/>
      </g>
     </g>
     <g id="text_45">
      <text style="font-size: 10px; font-family: 'DejaVu Sans', 'Liberation Sans', sans-serif; text-anchor: end" x="47.615273" y="638.958119" transform="rotate(-0 47.615273 638.958119)">−70</text>
     </g>
    </g>
    <g id="ytick_19">
     <g id="line2d_43">
      <g>
       <path d="M 0 0 L -3.5 0" transform="translate(54.615273 590.560297)" style="stroke: #000000; stroke-width: 0.8; stroke: #000000; stroke-width: 0.8"/>
      </g>
     </g>
     <g id="text_46">
      <text style="font-size: 10px; font-family: 'DejaVu Sans', 'Liberation Sans', sans-serif; text-anchor: end" x="47.615273" y="594.359515" transform="rotate(-0 47.615273 594.359515)">−60</text>
     </g>
    </g>
    <g id="ytick_20">
     <g id="line2d_44">
      <g>
       <path d="M 0 0 L -3.5 0" transform="translate(54.615273 545.961693)" style="stroke: #000000; stroke-width: 0.8; stroke: #000000; stroke-width: 0.8"/>
      </g>
     </g>
     <g id="text_47">
      <text style="font-size: 10px; font-family: 'DejaVu Sans', 'Liberation Sans', sans-serif; text-anchor: end" x="47.615273" y="549.760911" transform="rotate(-0 47.615273 549.760911)">−50</text>
     </g>
    </g>
    <g id="ytick_21">
     <g id="line2d_45">
      <g>
       <path d="M 0 0 L -3.5 0" transform="translate(54.615273 501.363089)" style="stroke: #000000; stroke-width: 0.8; stroke: #000000; stroke-width: 0.8"/>
      </g>
     </g>
     <g id="text_48">
      <text style="font-size: 10px; font-family: 'DejaVu Sans', 'Liberation Sans', sans-serif; text-anchor: end" x="47.615273" y="505.162307" transform="rotate(-0 47.615273 505.162307)">−40</text>
     </g>
    </g>
    <g id="text_49">
     <text style="font-size: 10px; font-family: 'DejaVu Sans', 'Liberation Sans', sans-serif; text-anchor: middle" x="14.068398" y="682.232727" transform="rotate(-90 14.068398 682.232727)">dBm</text>
    </g>
   </g>
   <g id="line2d_46">
    <path d="M 95.922446 528.345244 
L 178.536793 530.575174 
L 261.15114 530.575174 
L 343.765488 529.237216 
L 426.379835 530.575174 
L 508.994182 531.913132 
L 591.608529 531.02116 
L 674.222876 531.02116 
L 756.837223 530.129188 
L 839.45157 535.927007 
L 922.065917 520.094502 
" clip-path="url(#p54ad374e96)" style="fill: none; stroke: #0000ff; stroke-width: 1.7; stroke-linecap: square"/>
    <g clip-path="url(#p54ad374e96)">
     <path d="M 0 3 C 0.795609 3 1.55874 2.683901 2.12132 2.12132 C 2.683901 1.55874 3 0.795609 3 0 C 3 -0.795609 2.683901 -1.55874 2.12132 -2.12132 C 1.55874 -2.683901 0.795609 -3 0 -3 C -0.795609 -3 -1.55874 -2.683901 -2.12132 -2.12132 C -2.683901 -1.55874 -3 -0.795609 -3 0 C -3 0.795609 -2.683901 1.55874 -2.12132 2.12132 C -1.55874 2.683901 -0.795609 3 0 3 z" transform="translate(95.922446 528.345244)" style="stroke: #0000ff; fill: #0000ff; stroke: #0000ff"/>
     <path d="M 0 3 C 0.795609 3 1.55874 2.683901 2.12132 2.12132 C 2.683901 1.55874 3 0.795609 3 0 C 3 -0.795609 2.683901 -1.55874 2.12132 -2.12132 C 1.55874 -2.683901 0.795609 -3 0 -3 C -0.795609 -3 -1.55874 -2.683901 -2.12132 -2.12132 C -2.683901 -1.55874 -3 -0.795609 -3 0 C -3 0.795609 -2.683901 1.55874 -2.12132 2.12132 C -1.55874 2.683901 -0.795609 3 0 3 z" transform="translate(178.536793 530.575174)" style="stroke: #0000ff; fill: #0000ff; stroke: #0000ff"/>
     <path d="M 0 3 C 0.795609 3 1.55874 2.683901 2.12132 2.12132 C 2.683901 1.55874 3 0.795609 3 0 C 3 -0.795609 2.683901 -1.55874 2.12132 -2.12132 C 1.55874 -2.683901 0.795609 -3 0 -3 C -0.795609 -3 -1.55874 -2.683901 -2.12132 -2.12132 C -2.683901 -1.55874 -3 -0.795609 -3 0 C -3 0.795609 -2.683901 1.55874 -2.12132 2.12132 C -1.55874 2.683901 -0.795609 3 0 3 z" transform="translate(261.15114 530.575174)" style="stroke: #0000ff; fill: #0000ff; stroke: #0000ff"/>
     <path d="M 0 3 C 0.795609 3 1.55874 2.683901 2.12132 2.12132 C 2.683901 1.55874 3 0.795609 3 0 C 3 -0.795609 2.683901 -1.55874 2.12132 -2.12132 C 1.55874 -2.683901 0.795609 -3 0 -3 C -0.795609 -3 -1.55874 -2.683901 -2.12132 -2.12132 C -2.683901 -1.55874 -3 -0.795609 -3 0 C -3 0.795609 -2.683901 1.55874 -2.12132 2.12132 C -1.55874 2.683901 -0.795609 3 0 3 z" transform="translate(343.765488 529.237216)" style="stroke: #0000ff; fill: #0000ff; stroke: #0000ff"/>
     <path d="M 0 3 C 0.795609 3 1.55874 2.683901 2.12132 2.12132 C 2.683901 1.55874 3 0.795609 3 0 C 3 -0.795609 2.683901 -1.55874 2.12132 -2.12132 C 1.55874 -2.683901 0.795609 -3 0 -3 C -0.795609 -3 -1.55874 -2.683901 -2.12132 -2.12132 C -2.683901 -1.55874 -3 -0.795609 -3 0 C -3 0.795609 -2.683901 1.55874 -2.12132 2.12132 C -1.55874 2.683901 -0.795609 3 0 3 z" transform="translate(426.379835 530.575174)" style="stroke: #0000ff; fill: #0000ff; stroke: #0000ff"/>
     <path d="M 0 3 C 0.795609 3 1.55874 2.683901 2.12132 2.12132 C 2.683901 1.55874 3 0.795609 3 0 C 3 -0.795609 2.683901 -1.55874 2.12132 -2.12132 C 1.55874 -2.683901 0.795609 -3 0 -3 C -0.795609 -3 -1.55874 -2.683901 -2.12132 -2.12132 C -2.683901 -1.55874 -3 -0.795609 -3 0 C -3 0.795609 -2.683901 1.55874 -2.12132 2.12132 C -1.55874 2.683901 -0.795609 3 0 3 z" transform="translate(508.994182 531.913132)" style="stroke: #0000ff; fill: #0000ff; stroke: #0000ff"/>
     <path d="M 0 3 C 0.795609 3 1.55874 2.683901 2.12132 2.12132 C 2.683901 1.55874 3 0.795609 3 0 C 3 -0.795609 2.683901 -1.55874 2.12132 -2.12132 C 1.55874 -2.683901 0.795609 -3 0 -3 C -0.795609 -3 -1.55874 -2.683901 -2.12132 -2.12132 C -2.683901 -1.55874 -3 -0.795609 -3 0 C -3 0.795609 -2.683901 1.55874 -2.12132 2.12132 C -1.55874 2.683901 -0.795609 3 0 3 z" transform="translate(591.608529 531.02116)" style="stroke: #0000ff; fill: #0000ff; stroke: #0000ff"/>
     <path d="M 0 3 C 0.795609 3 1.55874 2.683901 2.12132 2.12132 C 2.683901 1.55874 3 0.795609 3 0 C 3 -0.795609 2.683901 -1.55874 2.12132 -2.12132 C 1.55874 -2.683901 0.795609 -3 0 -3 C -0.795609 -3 -1.55874 -2.683901 -2.12132 -2.12132 C -2.683901 -1.55874 -3 -0.795609 -3 0 C -3 0.795609 -2.683901 1.55874 -2.12132 2.12132 C -1.55874 2.683901 -0.795609 3 0 3 z" transform="translate(674.222876 531.02116)" style="stroke: #0000ff; fill: #0000ff; stroke: #0000ff"/>
     <path d="M 0 3 C 0.795609 3 1.55874 2.683901 2.12132 2.12132 C 2.683901 1.55874 3 0.795609 3 0 C 3 -0.795609 2.683901 -1.55874 2.12132 -2.12132 C 1.55874 -2.683901 0.795609 -3 0 -3 C -0.795609 -3 -1.55874 -2.683901 -2.12132 -2.12132 C -2.683901 -1.55874 -3 -0.795609 -3 0 C -3 0.795609 -2.683901 1.55874 -2.12132 2.12132 C -1.55874 2.683901 -0.795609 3 0 3 z" transform="translate(756.837223 530.129188)" style="stroke: #0000ff; fill: #0000ff; stroke: #0000ff"/>
     <path d="M 0 3 C 0.795609 3 1.55874 2.683901 2.12132 2.12132 C 2.683901 1.55874 3 0.795609 3 0 C 3 -0.795609 2.683901 -1.55874 2.12132 -2.12132 C 1.55874 -2.683901 0.795609 -3 0 -3 C -0.795609 -3 -1.55874 -2.683901 -2.12132 -2.12132 C -2.683901 -1.55874 -3 -0.795609 -3 0 C -3 0.795609 -2.683901 1.55874 -2.12132 2.12132 C -1.55874 2.683901 -0.795609 3 0 3 z" transform="translate(839.45157 535.927007)" style="stroke: #0000ff; fill: #0000ff; stroke: #0000ff"/>
     <path d="M 0 3 C 0.795609 3 1.55874 2.683901 2.12132 2.12132 C 2.683901 1.55874 3 0.795609 3 0 C 3 -0.795609 2.683901 -1.55874 2.12132 -2.12132 C 1.55874 -2.683901 0.795609 -3 0 -3 C -0.795609 -3 -1.55874 -2.683901 -2.12132 -2.12132 C -2.683901 -1.55874 -3 -0.795609 -3 0 C -3 0.795609 -2.683901 1.55874 -2.12132 2.12132 C -1.55874 2.683901 -0.795609 3 0 3 z" transform="translate(922.065917 520.094502)" style="stroke: #0000ff; fill: #0000ff; stroke: #0000ff"/>
    </g>
   </g>
   <g id="line2d_47">
    <path d="M 95.922446 510.728795 
L 178.536793 511.397774 
L 261.15114 511.397774 
L 343.765488 511.397774 
L 426.379835 511.397774 
L 508.994182 511.397774 
L 591.608529 511.843761 
L 674.222876 512.289747 
L 756.837223 519.425523 
L 839.45157 508.498865 
L 922.065917 535.258028 
" clip-path="url(#p54ad374e96)" style="fill: none; stroke: #ffa500; stroke-width: 1.7; stroke-linecap: square"/>
    <g clip-path="url(#p54ad374e96)">
     <path d="M 0 3 C 0.795609 3 1.55874 2.683901 2.12132 2.12132 C 2.683901 1.55874 3 0.795609 3 0 C 3 -0.795609 2.683901 -1.55874 2.12132 -2.12132 C 1.55874 -2.683901 0.795609 -3 0 -3 C -0.795609 -3 -1.55874 -2.683901 -2.12132 -2.12132 C -2.683901 -1.55874 -3 -0.795609 -3 0 C -3 0.795609 -2.683901 1.55874 -2.12132 2.12132 C -1.55874 2.683901 -0.795609 3 0 3 z" transform="translate(95.922446 510.728795)" style="stroke: #ffa500; fill: #ffa500; stroke: #ffa500"/>
     <path d="M 0 3 C 0.795609 3 1.55874 2.683901 2.12132 2.12132 C 2.683901 1.55874 3 0.795609 3 0 C 3 -0.795609 2.683901 -1.55874 2.12132 -2.12132 C 1.55874 -2.683901 0.795609 -3 0 -3 C -0.795609 -3 -1.55874 -2.683901 -2.12132 -2.12132 C -2.683901 -1.55874 -3 -0.795609 -3 0 C -3 0.795609 -2.683901 1.55874 -2.12132 2.12132 C -1.55874 2.683901 -0.795609 3 0 3 z" transform="translate(178.536793 511.397774)" style="stroke: #ffa500; fill: #ffa500; stroke: #ffa500"/>
     <path d="M 0 3 C 0.795609 3 1.55874 2.683901 2.12132 2.12132 C 2.683901 1.55874 3 0.795609 3 0 C 3 -0.795609 2.683901 -1.55874 2.12132 -2.12132 C 1.55874 -2.683901 0.795609 -3 0 -3 C -0.795609 -3 -1.55874 -2.683901 -2.12132 -2.12132 C -2.683901 -1.55874 -3 -0.795609 -3 0 C -3 0.795609 -2.683901 1.55874 -2.12132 2.12132 C -1.55874 2.683901 -0.795609 3 0 3 z" transform="translate(261.15114 511.397774)" style="stroke: #ffa500; fill: #ffa500; stroke: #ffa500"/>
     <path d="M 0 3 C 0.795609 3 1.55874 2.683901 2.12132 2.12132 C 2.683901 1.55874 3 0.795609 3 0 C 3 -0.795609 2.683901 -1.55874 2.12132 -2.12132 C 1.55874 -2.683901 0.795609 -3 0 -3 C -0.795609 -3 -1.55874 -2.683901 -2.12132 -2.12132 C -2.683901 -1.55874 -3 -0.795609 -3 0 C -3 0.795609 -2.683901 1.55874 -2.12132 2.12132 C -1.55874 2.683901 -0.795609 3 0 3 z" transform="translate(343.765488 511.397774)" style="stroke: #ffa500; fill: #ffa500; stroke: #ffa500"/>
     <path d="M 0 3 C 0.795609 3 1.55874 2.683901 2.12132 2.12132 C 2.683901 1.55874 3 0.795609 3 0 C 3 -0.795609 2.683901 -1.55874 2.12132 -2.12132 C 1.55874 -2.683901 0.795609 -3 0 -3 C -0.795609 -3 -1.55874 -2.683901 -2.12132 -2.12132 C -2.683901 -1.55874 -3 -0.795609 -3 0 C -3 0.795609 -2.683901 1.55874 -2.12132 2.12132 C -1.55874 2.683901 -0.795609 3 0 3 z" transform="translate(426.379835 511.397774)" style="stroke: #ffa500; fill: #ffa500; stroke: #ffa500"/>
     <path d="M 0 3 C 0.795609 3 1.55874 2.683901 2.12132 2.12132 C 2.683901 1.55874 3 0.795609 3 0 C 3 -0.795609 2.683901 -1.55874 2.12132 -2.12132 C 1.55874 -2.683901 0.795609 -3 0 -3 C -0.795609 -3 -1.55874 -2.683901 -2.12132 -2.12132 C -2.683901 -1.55874 -3 -0.795609 -3 0 C -3 0.795609 -2.683901 1.55874 -2.12132 2.12132 C -1.55874 2.683901 -0.795609 3 0 3 z" transform="translate(508.994182 511.397774)" style="stroke: #ffa500; fill: #ffa500; stroke: #ffa500"/>
     <path d="M 0 3 C 0.795609 3 1.55874 2.683901 2.12132 2.12132 C 2.683901 1.55874 3 0.795609 3 0 C 3 -0.795609 2.683901 -1.55874 2.12132 -2.12132 C 1.55874 -2.683901 0.795609 -3 0 -3 C -0.795609 -3 -1.55874 -2.683901 -2.12132 -2.12132 C -2.683901 -1.55874 -3 -0.795609 -3 0 C -3 0.795609 -2.683901 1.55874 -2.12132 2.12132 C -1.55874 2.683901 -0.795609 3 0 3 z" transform="translate(591.608529 511.843761)" style="stroke: #ffa500; fill: #ffa500; stroke: #ffa500"/>
     <path d="M 0 3 C 0.795609 3 1.55874 2.683901 2.12132 2.12132 C 2.683901 1.55874 3 0.795609 3 0 C 3 -0.795609 2.683901 -1.55874 2.12132 -2.12132 C 1.55874 -2.683901 0.795609 -3 0 -3 C -0.795609 -3 -1.55874 -2.683901 -2.12132 -2.12132 C -2.683901 -1.55874 -3 -0.795609 -3 0 C -3 0.795609 -2.683901 1.55874 -2.12132 2.12132 C -1.55874 2.683901 -0.795609 3 0 3 z" transform="translate(674.222876 512.289747)" style="stroke: #ffa500; fill: #ffa500; stroke: #ffa500"/>
     <path d="M 0 3 C 0.795609 3 1.55874 2.683901 2.12132 2.12132 C 2.683901 1.55874 3 0.795609 3 0 C 3 -0.795609 2.683901 -1.55874 2.12132 -2.12132 C 1.55874 -2.683901 0.795609 -3 0 -3 C -0.795609 -3 -1.55874 -2.683901 -2.12132 -2.12132 C -2.683901 -1.55874 -3 -0.795609 -3 0 C -3 0.795609 -2.683901 1.55874 -2.12132 2.12132 C -1.55874 2.683901 -0.795609 3 0 3 z" transform="translate(756.837223 519.425523)" style="stroke: #ffa500; fill: #ffa500; stroke: #ffa500"/>
     <path d="M 0 3 C 0.795609 3 1.55874 2.683901 2.12132 2.12132 C 2.683901 1.55874 3 0.795609 3 0 C 3 -0.795609 2.683901 -1.55874 2.12132 -2.12132 C 1.55874 -2.683901 0.795609 -3 0 -3 C -0.795609 -3 -1.55874 -2.683901 -2.12132 -2.12132 C -2.683901 -1.55874 -3 -0.795609 -3 0 C -3 0.795609 -2.683901 1.55874 -2.12132 2.12132 C -1.55874 2.683901 -0.795609 3 0 3 z" transform="translate(839.45157 508.498865)" style="stroke: #ffa500; fill: #ffa500; stroke: #ffa500"/>
     <path d="M 0 3 C 0.795609 3 1.55874 2.683901 2.12132 2.12132 C 2.683901 1.55874 3 0.795609 3 0 C 3 -0.795609 2.683901 -1.55874 2.12132 -2.12132 C 1.55874 -2.683901 0.795609 -3 0 -3 C -0.795609 -3 -1.55874 -2.683901 -2.12132 -2.12132 C -2.683901 -1.55874 -3 -0.795609 -3 0 C -3 0.795609 -2.683901 1.55874 -2.12132 2.12132 C -1.55874 2.683901 -0.795609 3 0 3 z" transform="translate(922.065917 535.258028)" style="stroke: #ffa500; fill: #ffa500; stroke: #ffa500"/>
    </g>
   </g>
   <g id="line2d_48">
    <path d="M 95.922446 774.841729 
L 178.536793 777.963631 
L 261.15114 770.381868 
L 343.765488 853.335272 
L 426.379835 765.922008 
L 508.994182 840.847663 
L 591.608529 838.171746 
L 674.222876 849.767383 
L 756.837223 775.733701 
L 839.45157 773.057784 
L 922.065917 764.138064 
" clip-path="url(#p54ad374e96)" style="fill: none; stroke: #008000; stroke-width: 1.7; stroke-linecap: square"/>
    <g clip-path="url(#p54ad374e96)">
     <path d="M -3 3 L 3 -3 M -3 -3 L 3 3" transform="translate(95.922446 774.841729)" style="stroke: #008000; fill: #008000; stroke: #008000"/>
     <path d="M -3 3 L 3 -3 M -3 -3 L 3 3" transform="translate(178.536793 777.963631)" style="stroke: #008000; fill: #008000; stroke: #008000"/>
     <path d="M -3 3 L 3 -3 M -3 -3 L 3 3" transform="translate(261.15114 770.381868)" style="stroke: #008000; fill: #008000; stroke: #008000"/>
     <path d="M -3 3 L 3 -3 M -3 -3 L 3 3" transform="translate(343.765488 853.335272)" style="stroke: #008000; fill: #008000; stroke: #008000"/>
     <path d="M -3 3 L 3 -3 M -3 -3 L 3 3" transform="translate(426.379835 765.922008)" style="stroke: #008000; fill: #008000; stroke: #008000"/>
     <path d="M -3 3 L 3 -3 M -3 -3 L 3 3" transform="translate(508.994182 840.847663)" style="stroke: #008000; fill: #008000; stroke: #008000"/>
     <path d="M -3 3 L 3 -3 M -3 -3 L 3 3" transform="translate(591.608529 838.171746)" style="stroke: #008000; fill: #008000; stroke: #008000"/>
     <path d="M -3 3 L 3 -3 M -3 -3 L 3 3" transform="translate(674.222876 849.767383)" style="stroke: #008000; fill: #008000; stroke: #008000"/>
     <path d="M -3 3 L 3 -3 M -3 -3 L 3 3" transform="translate(756.837223 775.733701)" style="stroke: #008000; fill: #008000; stroke: #008000"/>
     <path d="M -3 3 L 3 -3 M -3 -3 L 3 3" transform="translate(839.45157 773.057784)" style="stroke: #008000; fill: #008000; stroke: #008000"/>
     <path d="M -3 3 L 3 -3 M -3 -3 L 3 3" transform="translate(922.065917 764.138064)" style="stroke: #008000; fill: #008000; stroke: #008000"/>
    </g>
   </g>
   <g id="line2d_49">
    <path d="M 95.922446 774.395743 
L 178.536793 776.179687 
L 261.15114 766.81398 
L 343.765488 851.551328 
L 426.379835 763.246092 
L 508.994182 839.063718 
L 591.608529 836.833788 
L 674.222876 848.875411 
L 756.837223 775.287715 
L 839.45157 771.27384 
L 922.065917 745.852636 
" clip-path="url(#p54ad374e96)" style="fill: none; stroke: #ff0000; stroke-width: 1.7; stroke-linecap: square"/>
    <g clip-path="url(#p54ad374e96)">
     <path d="M -3 3 L 3 -3 M -3 -3 L 3 3" transform="translate(95.922446 774.395743)" style="stroke: #ff0000; fill: #ff0000; stroke: #ff0000"/>
     <path d="M -3 3 L 3 -3 M -3 -3 L 3 3" transform="translate(178.536793 776.179687)" style="stroke: #ff0000; fill: #ff0000; stroke: #ff0000"/>
     <path d="M -3 3 L 3 -3 M -3 -3 L 3 3" transform="translate(261.15114 766.81398)" style="stroke: #ff0000; fill: #ff0000; stroke: #ff0000"/>
     <path d="M -3 3 L 3 -3 M -3 -3 L 3 3" transform="translate(343.765488 851.551328)" style="stroke: #ff0000; fill: #ff0000; stroke: #ff0000"/>
     <path d="M -3 3 L 3 -3 M -3 -3 L 3 3" transform="translate(426.379835 763.246092)" style="stroke: #ff0000; fill: #ff0000; stroke: #ff0000"/>
     <path d="M -3 3 L 3 -3 M -3 -3 L 3 3" transform="translate(508.994182 839.063718)" style="stroke: #ff0000; fill: #ff0000; stroke: #ff0000"/>
     <path d="M -3 3 L 3 -3 M -3 -3 L 3 3" transform="translate(591.608529 836.833788)" style="stroke: #ff0000; fill: #ff0000; stroke: #ff0000"/>
     <path d="M -3 3 L 3 -3 M -3 -3 L 3 3" transform="translate(674.222876 848.875411)" style="stroke: #ff0000; fill: #ff0000; stroke: #ff0000"/>
     <path d="M -3 3 L 3 -3 M -3 -3 L 3 3" transform="translate(756.837223 775.287715)" style="stroke: #ff0000; fill: #ff0000; stroke: #ff0000"/>
     <path d="M -3 3 L 3 -3 M -3 -3 L 3 3" transform="translate(839.45157 771.27384)" style="stroke: #ff0000; fill: #ff0000; stroke: #ff0000"/>
     <path d="M -3 3 L 3 -3 M -3 -3 L 3 3" transform="translate(922.065917 745.852636)" style="stroke: #ff0000; fill: #ff0000; stroke: #ff0000"/>
    </g>
   </g>
   <g id="patch_22">
    <path d="M 54.615273 870.728727 
L 54.615273 493.736727 
" style="fill: none; stroke: #000000; stroke-linejoin: miter; stroke-linecap: square"/>
   </g>
   <g id="patch_23">
    <path d="M 963.373091 870.728727 
L 963.373091 493.736727 
" style="fill: none; stroke: #000000; stroke-linejoin: miter; stroke-linecap: square"/>
   </g>
   <g id="patch_24">
    <path d="M 54.615273 870.728727 
L 963.373091 870.728727 
" style="fill: none; stroke: #000000; stroke-linejoin: miter; stroke-linecap: square"/>
   </g>
   <g id="patch_25">
    <path d="M 54.615273 493.736727 
L 963.373091 493.736727 
" style="fill: none; stroke: #000000; stroke-linejoin: miter; stroke-linecap: square"/>
   </g>
   <g id="text_50">
    <text style="font-size: 12.18px; font-family: 'DejaVu Sans', 'Liberation Sans', sans-serif; text-anchor: middle" x="508.994182" y="487.736727" transform="rotate(-0 508.994182 487.736727)">Signal and noise according to scenario</text>
   </g>
   <g id="legend_3">
    <g id="patch_26">
     <path d="M 818.930661 562.579102 
L 956.268091 562.579102 
Q 958.298091 562.579102 958.298091 560.549102 
L 958.298091 500.841727 
Q 958.298091 498.811727 956.268091 498.811727 
L 818.930661 498.811727 
Q 816.900661 498.811727 816.900661 500.841727 
L 816.900661 560.549102 
Q 816.900661 562.579102 818.930661 562.579102 
z
" style="fill: #ffffff; opacity: 0.8; stroke: #cccccc; stroke-linejoin: miter"/>
    </g>
    <g id="line2d_50">
     <path d="M 820.960661 507.031641 
L 831.110661 507.031641 
L 841.260661 507.031641 
" style="fill: none; stroke: #0000ff; stroke-width: 1.7; stroke-linecap: square"/>
     <g>
      <path d="M 0 3 C 0.795609 3 1.55874 2.683901 2.12132 2.12132 C 2.683901 1.55874 3 0.795609 3 0 C 3 -0.795609 2.683901 -1.55874 2.12132 -2.12132 C 1.55874 -2.683901 0.795609 -3 0 -3 C -0.795609 -3 -1.55874 -2.683901 -2.12132 -2.12132 C -2.683901 -1.55874 -3 -0.795609 -3 0 C -3 0.795609 -2.683901 1.55874 -2.12132 2.12132 C -1.55874 2.683901 -0.795609 3 0 3 z" transform="translate(831.110661 507.031641)" style="stroke: #0000ff; fill: #0000ff; stroke: #0000ff"/>
     </g>
    </g>
    <g id="text_51">
     <text style="font-size: 10.15px; font-family: 'DejaVu Sans', 'Liberation Sans', sans-serif; text-anchor: start" x="849.380661" y="510.584141" transform="rotate(-0 849.380661 510.584141)">Signal [dBm] sig_A</text>
    </g>
    <g id="line2d_51">
     <path d="M 820.960661 522.212235 
L 831.110661 522.212235 
L 841.260661 522.212235 
" style="fill: none; stroke: #ffa500; stroke-width: 1.7; stroke-linecap: square"/>
     <g>
      <path d="M 0 3 C 0.795609 3 1.55874 2.683901 2.12132 2.12132 C 2.683901 1.55874 3 0.795609 3 0 C 3 -0.795609 2.683901 -1.55874 2.12132 -2.12132 C 1.55874 -2.683901 0.795609 -3 0 -3 C -0.795609 -3 -1.55874 -2.683901 -2.12132 -2.12132 C -2.683901 -1.55874 -3 -0.795609 -3 0 C -3 0.795609 -2.683901 1.55874 -2.12132 2.12132 C -1.55874 2.683901 -0.795609 3 0 3 z" transform="translate(831.110661 522.212235)" style="stroke: #ffa500; fill: #ffa500; stroke: #ffa500"/>
     </g>
    </g>
    <g id="text_52">
     <text style="font-size: 10.15px; font-family: 'DejaVu Sans', 'Liberation Sans', sans-serif; text-anchor: start" x="849.380661" y="525.764735" transform="rotate(-0 849.380661 525.764735)">Signal [dBm] sig_B</text>
    </g>
    <g id="line2d_52">
     <path d="M 820.960661 537.392829 
L 831.110661 537.392829 
L 841.260661 537.392829 
" style="fill: none; stroke: #008000; stroke-width: 1.7; stroke-linecap: square"/>
     <g>
      <path d="M -3 3 L 3 -3 M -3 -3 L 3 3" transform="translate(831.110661 537.392829)" style="stroke: #008000; fill: #008000; stroke: #008000"/>
     </g>
    </g>
    <g id="text_53">
     <text style="font-size: 10.15px; font-family: 'DejaVu Sans', 'Liberation Sans', sans-serif; text-anchor: start" x="849.380661" y="540.945329" transform="rotate(-0 849.380661 540.945329)">Noise [dBm] noise_A</text>
    </g>
    <g id="line2d_53">
     <path d="M 820.960661 552.573423 
L 831.110661 552.573423 
L 841.260661 552.573423 
" style="fill: none; stroke: #ff0000; stroke-width: 1.7; stroke-linecap: square"/>
     <g>
      <path d="M -3 3 L 3 -3 M -3 -3 L 3 3" transform="translate(831.110661 552.573423)" style="stroke: #ff0000; fill: #ff0000; stroke: #ff0000"/>
     </g>
    </g>
    <g id="text_54">
     <text style="font-size: 10.15px; font-family: 'DejaVu Sans', 'Liberation Sans', sans-serif; text-anchor: start" x="849.380661" y="556.125923" transform="rotate(-0 849.380661 556.125923)">Noise [dBm] noise_B</text>
    </g>
   </g>
  </g>
  <g id="axes_4">
   <g id="patch_27">
    <path d="M 54.615273 1340.456727 
L 963.373091 1340.456727 
L 963.373091 964.564364 
L 54.615273 964.564364 
z
" style="fill: #ffffff"/>
   </g>
   <g id="patch_28">
    <path d="M 95.922446 1340.456727 
L 157.118259 1340.456727 
L 157.118259 1025.743718 
L 95.922446 1025.743718 
z
" clip-path="url(#p0abddf0f60)" style="fill: #008000"/>
   </g>
   <g id="patch_29">
    <path d="M 172.417212 1340.456727 
L 233.613025 1340.456727 
L 233.613025 1016.66032 
L 172.417212 1016.66032 
z
" clip-path="url(#p0abddf0f60)" style="fill: #008000"/>
   </g>
   <g id="patch_30">
    <path d="M 248.911978 1340.456727 
L 310.107791 1340.456727 
L 310.107791 981.929682 
L 248.911978 981.929682 
z
" clip-path="url(#p0abddf0f60)" style="fill: #008000"/>
   </g>
   <g id="patch_31">
    <path d="M 325.406744 1340.456727 
L 386.602556 1340.456727 
L 386.602556 1010.24851 
L 325.406744 1010.24851 
z
" clip-path="url(#p0abddf0f60)" style="fill: #008000"/>
   </g>
   <g id="patch_32">
    <path d="M 401.90151 1340.456727 
L 463.097322 1340.456727 
L 463.097322 1014.923788 
L 401.90151 1014.923788 
z
" clip-path="url(#p0abddf0f60)" style="fill: #008000"/>
   </g>
   <g id="patch_33">
    <path d="M 478.396275 1340.456727 
L 539.592088 1340.456727 
L 539.592088 993.684668 
L 478.396275 993.684668 
z
" clip-path="url(#p0abddf0f60)" style="fill: #008000"/>
   </g>
   <g id="patch_34">
    <path d="M 554.891041 1340.456727 
L 616.086854 1340.456727 
L 616.086854 993.684668 
L 554.891041 993.684668 
z
" clip-path="url(#p0abddf0f60)" style="fill: #008000"/>
   </g>
   <g id="patch_35">
    <path d="M 631.385807 1340.456727 
L 692.58162 1340.456727 
L 692.58162 1014.790209 
L 631.385807 1014.790209 
z
" clip-path="url(#p0abddf0f60)" style="fill: #008000"/>
   </g>
   <g id="patch_36">
    <path d="M 707.880573 1340.456727 
L 769.076386 1340.456727 
L 769.076386 1033.224163 
L 707.880573 1033.224163 
z
" clip-path="url(#p0abddf0f60)" style="fill: #008000"/>
   </g>
   <g id="patch_37">
    <path d="M 784.375339 1340.456727 
L 845.571152 1340.456727 
L 845.571152 1033.224163 
L 784.375339 1033.224163 
z
" clip-path="url(#p0abddf0f60)" style="fill: #008000"/>
   </g>
   <g id="patch_38">
    <path d="M 860.870105 1340.456727 
L 922.065917 1340.456727 
L 922.065917 997.157731 
L 860.870105 997.157731 
z
" clip-path="url(#p0abddf0f60)" style="fill: #008000"/>
   </g>
   <g id="matplotlib.axis_6">
    <g id="xtick_23">
     <g id="line2d_54">
      <g>
       <path d="M 0 0 L 0 3.5" transform="translate(126.520353 1340.456727)" style="stroke: #000000; stroke-width: 0.8; stroke: #000000; stroke-width: 0.8"/>
      </g>
     </g>
     <g id="text_55">
      <text style="font-size: 10px; font-family: 'DejaVu Sans', 'Liberation Sans', sans-serif" transform="translate(80.675526 1397.203899) rotate(-45)">Scenario 7m</text>
     </g>
    </g>
    <g id="xtick_24">
     <g id="line2d_55">
      <g>
       <path d="M 0 0 L 0 3.5" transform="translate(203.015118 1340.456727)" style="stroke: #000000; stroke-width: 0.8; stroke: #000000; stroke-width: 0.8"/>
      </g>
     </g>
     <g id="text_56">
      <text style="font-size: 10px; font-family: 'DejaVu Sans', 'Liberation Sans', sans-serif" transform="translate(152.671325 1401.702866) rotate(-45)">Scenario 13m</text>
     </g>
    </g>
    <g id="xtick_25">
     <g id="line2d_56">
      <g>
       <path d="M 0 0 L 0 3.5" transform="translate(279.509884 1340.456727)" style="stroke: #000000; stroke-width: 0.8; stroke: #000000; stroke-width: 0.8"/>
      </g>
     </g>
     <g id="text_57">
      <text style="font-size: 10px; font-family: 'DejaVu Sans', 'Liberation Sans', sans-serif" transform="translate(229.166091 1401.702866) rotate(-45)">Scenario 20m</text>
     </g>
    </g>
    <g id="xtick_26">
     <g id="line2d_57">
      <g>
       <path d="M 0 0 L 0 3.5" transform="translate(356.00465 1340.456727)" style="stroke: #000000; stroke-width: 0.8; stroke: #000000; stroke-width: 0.8"/>
      </g>
     </g>
     <g id="text_58">
      <text style="font-size: 10px; font-family: 'DejaVu Sans', 'Liberation Sans', sans-serif" transform="translate(305.660857 1401.702866) rotate(-45)">Scenario 30m</text>
     </g>
    </g>
    <g id="xtick_27">
     <g id="line2d_58">
      <g>
       <path d="M 0 0 L 0 3.5" transform="translate(432.499416 1340.456727)" style="stroke: #000000; stroke-width: 0.8; stroke: #000000; stroke-width: 0.8"/>
      </g>
     </g>
     <g id="text_59">
      <text style="font-size: 10px; font-family: 'DejaVu Sans', 'Liberation Sans', sans-serif" transform="translate(382.155623 1401.702866) rotate(-45)">Scenario 55m</text>
     </g>
    </g>
    <g id="xtick_28">
     <g id="line2d_59">
      <g>
       <path d="M 0 0 L 0 3.5" transform="translate(508.994182 1340.456727)" style="stroke: #000000; stroke-width: 0.8; stroke: #000000; stroke-width: 0.8"/>
      </g>
     </g>
     <g id="text_60">
      <text style="font-size: 10px; font-family: 'DejaVu Sans', 'Liberation Sans', sans-serif" transform="translate(458.650389 1401.702866) rotate(-45)">Scenario 75m</text>
     </g>
    </g>
    <g id="xtick_29">
     <g id="line2d_60">
      <g>
       <path d="M 0 0 L 0 3.5" transform="translate(585.488948 1340.456727)" style="stroke: #000000; stroke-width: 0.8; stroke: #000000; stroke-width: 0.8"/>
      </g>
     </g>
     <g id="text_61">
      <text style="font-size: 10px; font-family: 'DejaVu Sans', 'Liberation Sans', sans-serif" transform="translate(530.646188 1406.201833) rotate(-45)">Scenario 100m</text>
     </g>
    </g>
    <g id="xtick_30">
     <g id="line2d_61">
      <g>
       <path d="M 0 0 L 0 3.5" transform="translate(661.983713 1340.456727)" style="stroke: #000000; stroke-width: 0.8; stroke: #000000; stroke-width: 0.8"/>
      </g>
     </g>
     <g id="text_62">
      <text style="font-size: 10px; font-family: 'DejaVu Sans', 'Liberation Sans', sans-serif" transform="translate(607.140953 1406.201833) rotate(-45)">Scenario 130m</text>
     </g>
    </g>
    <g id="xtick_31">
     <g id="line2d_62">
      <g>
       <path d="M 0 0 L 0 3.5" transform="translate(738.478479 1340.456727)" style="stroke: #000000; stroke-width: 0.8; stroke: #000000; stroke-width: 0.8"/>
      </g>
     </g>
     <g id="text_63">
      <text style="font-size: 10px; font-family: 'DejaVu Sans', 'Liberation Sans', sans-serif" transform="translate(683.635719 1406.201833) rotate(-45)">Scenario 175m</text>
     </g>
    </g>
    <g id="xtick_32">
     <g id="line2d_63">
      <g>
       <path d="M 0 0 L 0 3.5" transform="translate(814.973245 1340.456727)" style="stroke: #000000; stroke-width: 0.8; stroke: #000000; stroke-width: 0.8"/>
      </g>
     </g>
     <g id="text_64">
      <text style="font-size: 10px; font-family: 'DejaVu Sans', 'Liberation Sans', sans-serif" transform="translate(760.130485 1406.201833) rotate(-45)">Scenario 200m</text>
     </g>
    </g>
    <g id="xtick_33">
     <g id="line2d_64">
      <g>
       <path d="M 0 0 L 0 3.5" transform="translate(891.468011 1340.456727)" style="stroke: #000000; stroke-width: 0.8; stroke: #000000; stroke-width: 0.8"/>
      </g>
     </g>
     <g id="text_65">
      <text style="font-size: 10px; font-family: 'DejaVu Sans', 'Liberation Sans', sans-serif" transform="translate(836.625251 1406.201833) rotate(-45)">Scenario 220m</text>
     </g>
    </g>
   </g>
   <g id="matplotlib.axis_7">
    <g id="ytick_22">
     <g id="line2d_65">
      <g>
       <path d="M 0 0 L -3.5 0" transform="translate(54.615273 1340.456727)" style="stroke: #000000; stroke-width: 0.8; stroke: #000000; stroke-width: 0.8"/>
      </g>
     </g>
     <g id="text_66">
      <text style="font-size: 10px; font-family: 'DejaVu Sans', 'Liberation Sans', sans-serif; text-anchor: end" x="47.615273" y="1344.255946" transform="rotate(-0 47.615273 1344.255946)">0</text>
     </g>
    </g>
    <g id="ytick_23">
     <g id="line2d_66">
      <g>
       <path d="M 0 0 L -3.5 0" transform="translate(54.615273 1273.667039)" style="stroke: #000000; stroke-width: 0.8; stroke: #000000; stroke-width: 0.8"/>
      </g>
     </g>
     <g id="text_67">
      <text style="font-size: 10px; font-family: 'DejaVu Sans', 'Liberation Sans', sans-serif; text-anchor: end" x="47.615273" y="1277.466258" transform="rotate(-0 47.615273 1277.466258)">50</text>
     </g>
    </g>
    <g id="ytick_24">
     <g id="line2d_67">
      <g>
       <path d="M 0 0 L -3.5 0" transform="translate(54.615273 1206.877351)" style="stroke: #000000; stroke-width: 0.8; stroke: #000000; stroke-width: 0.8"/>
      </g>
     </g>
     <g id="text_68">
      <text style="font-size: 10px; font-family: 'DejaVu Sans', 'Liberation Sans', sans-serif; text-anchor: end" x="47.615273" y="1210.67657" transform="rotate(-0 47.615273 1210.67657)">100</text>
     </g>
    </g>
    <g id="ytick_25">
     <g id="line2d_68">
      <g>
       <path d="M 0 0 L -3.5 0" transform="translate(54.615273 1140.087664)" style="stroke: #000000; stroke-width: 0.8; stroke: #000000; stroke-width: 0.8"/>
      </g>
     </g>
     <g id="text_69">
      <text style="font-size: 10px; font-family: 'DejaVu Sans', 'Liberation Sans', sans-serif; text-anchor: end" x="47.615273" y="1143.886882" transform="rotate(-0 47.615273 1143.886882)">150</text>
     </g>
    </g>
    <g id="ytick_26">
     <g id="line2d_69">
      <g>
       <path d="M 0 0 L -3.5 0" transform="translate(54.615273 1073.297976)" style="stroke: #000000; stroke-width: 0.8; stroke: #000000; stroke-width: 0.8"/>
      </g>
     </g>
     <g id="text_70">
      <text style="font-size: 10px; font-family: 'DejaVu Sans', 'Liberation Sans', sans-serif; text-anchor: end" x="47.615273" y="1077.097194" transform="rotate(-0 47.615273 1077.097194)">200</text>
     </g>
    </g>
    <g id="ytick_27">
     <g id="line2d_70">
      <g>
       <path d="M 0 0 L -3.5 0" transform="translate(54.615273 1006.508288)" style="stroke: #000000; stroke-width: 0.8; stroke: #000000; stroke-width: 0.8"/>
      </g>
     </g>
     <g id="text_71">
      <text style="font-size: 10px; font-family: 'DejaVu Sans', 'Liberation Sans', sans-serif; text-anchor: end" x="47.615273" y="1010.307506" transform="rotate(-0 47.615273 1010.307506)">250</text>
     </g>
    </g>
    <g id="text_72">
     <text style="font-size: 10px; font-family: 'DejaVu Sans', 'Liberation Sans', sans-serif; text-anchor: middle" x="22.448085" y="1152.510545" transform="rotate(-90 22.448085 1152.510545)">Message Size (B)</text>
    </g>
   </g>
   <g id="patch_39">
    <path d="M 54.615273 1340.456727 
L 54.615273 964.564364 
" style="fill: none; stroke: #000000; stroke-linejoin: miter; stroke-linecap: square"/>
   </g>
   <g id="patch_40">
    <path d="M 963.373091 1340.456727 
L 963.373091 964.564364 
" style="fill: none; stroke: #000000; stroke-linejoin: miter; stroke-linecap: square"/>
   </g>
   <g id="patch_41">
    <path d="M 54.615273 1340.456727 
L 963.373091 1340.456727 
" style="fill: none; stroke: #000000; stroke-linejoin: miter; stroke-linecap: square"/>
   </g>
   <g id="patch_42">
    <path d="M 54.615273 964.564364 
L 963.373091 964.564364 
" style="fill: none; stroke: #000000; stroke-linejoin: miter; stroke-linecap: square"/>
   </g>
   <g id="text_73">
    <text style="font-size: 12.18px; font-family: 'DejaVu Sans', 'Liberation Sans', sans-serif; text-anchor: middle" x="508.994182" y="958.564364" transform="rotate(-0 508.994182 958.564364)">Message size and transfer rate by scenario</text>
   </g>
   <g id="legend_4">
    <g id="patch_43">
     <path d="M 61.720273 987.582661 
L 156.797226 987.582661 
Q 158.827226 987.582661 158.827226 985.552661 
L 158.827226 971.669364 
Q 158.827226 969.639364 156.797226 969.639364 
L 61.720273 969.639364 
Q 59.690273 969.639364 59.690273 971.669364 
L 59.690273 985.552661 
Q 59.690273 987.582661 61.720273 987.582661 
z
" style="fill: #ffffff; opacity: 0.8; stroke: #cccccc; stroke-linejoin: miter"/>
    </g>
    <g id="patch_44">
     <path d="M 63.750273 981.411778 
L 84.050273 981.411778 
L 84.050273 974.306778 
L 63.750273 974.306778 
z
" style="fill: #008000"/>
    </g>
    <g id="text_74">
     <text style="font-size: 10.15px; font-family: 'DejaVu Sans', 'Liberation Sans', sans-serif; text-anchor: start" x="92.170273" y="981.411778" transform="rotate(-0 92.170273 981.411778)">Message [B]</text>
    </g>
   </g>
  </g>
  <g id="axes_5">
   <g id="matplotlib.axis_8">
    <g id="ytick_28">
     <g id="line2d_71">
      <g>
       <path d="M 0 0 L 3.5 0" transform="translate(963.373091 1300.358908)" style="stroke: #000000; stroke-width: 0.8; stroke: #000000; stroke-width: 0.8"/>
      </g>
     </g>
     <g id="text_75">
      <text style="font-size: 10px; font-family: 'DejaVu Sans', 'Liberation Sans', sans-serif; text-anchor: start" x="970.373091" y="1304.158127" transform="rotate(-0 970.373091 1304.158127)">56</text>
     </g>
    </g>
    <g id="ytick_29">
     <g id="line2d_72">
      <g>
       <path d="M 0 0 L 3.5 0" transform="translate(963.373091 1250.977357)" style="stroke: #000000; stroke-width: 0.8; stroke: #000000; stroke-width: 0.8"/>
      </g>
     </g>
     <g id="text_76">
      <text style="font-size: 10px; font-family: 'DejaVu Sans', 'Liberation Sans', sans-serif; text-anchor: start" x="970.373091" y="1254.776576" transform="rotate(-0 970.373091 1254.776576)">58</text>
     </g>
    </g>
    <g id="ytick_30">
     <g id="line2d_73">
      <g>
       <path d="M 0 0 L 3.5 0" transform="translate(963.373091 1201.595807)" style="stroke: #000000; stroke-width: 0.8; stroke: #000000; stroke-width: 0.8"/>
      </g>
     </g>
     <g id="text_77">
      <text style="font-size: 10px; font-family: 'DejaVu Sans', 'Liberation Sans', sans-serif; text-anchor: start" x="970.373091" y="1205.395026" transform="rotate(-0 970.373091 1205.395026)">60</text>
     </g>
    </g>
    <g id="ytick_31">
     <g id="line2d_74">
      <g>
       <path d="M 0 0 L 3.5 0" transform="translate(963.373091 1152.214256)" style="stroke: #000000; stroke-width: 0.8; stroke: #000000; stroke-width: 0.8"/>
      </g>
     </g>
     <g id="text_78">
      <text style="font-size: 10px; font-family: 'DejaVu Sans', 'Liberation Sans', sans-serif; text-anchor: start" x="970.373091" y="1156.013475" transform="rotate(-0 970.373091 1156.013475)">62</text>
     </g>
    </g>
    <g id="ytick_32">
     <g id="line2d_75">
      <g>
       <path d="M 0 0 L 3.5 0" transform="translate(963.373091 1102.832705)" style="stroke: #000000; stroke-width: 0.8; stroke: #000000; stroke-width: 0.8"/>
      </g>
     </g>
     <g id="text_79">
      <text style="font-size: 10px; font-family: 'DejaVu Sans', 'Liberation Sans', sans-serif; text-anchor: start" x="970.373091" y="1106.631924" transform="rotate(-0 970.373091 1106.631924)">64</text>
     </g>
    </g>
    <g id="ytick_33">
     <g id="line2d_76">
      <g>
       <path d="M 0 0 L 3.5 0" transform="translate(963.373091 1053.451155)" style="stroke: #000000; stroke-width: 0.8; stroke: #000000; stroke-width: 0.8"/>
      </g>
     </g>
     <g id="text_80">
      <text style="font-size: 10px; font-family: 'DejaVu Sans', 'Liberation Sans', sans-serif; text-anchor: start" x="970.373091" y="1057.250374" transform="rotate(-0 970.373091 1057.250374)">66</text>
     </g>
    </g>
    <g id="ytick_34">
     <g id="line2d_77">
      <g>
       <path d="M 0 0 L 3.5 0" transform="translate(963.373091 1004.069604)" style="stroke: #000000; stroke-width: 0.8; stroke: #000000; stroke-width: 0.8"/>
      </g>
     </g>
     <g id="text_81">
      <text style="font-size: 10px; font-family: 'DejaVu Sans', 'Liberation Sans', sans-serif; text-anchor: start" x="970.373091" y="1007.868823" transform="rotate(-0 970.373091 1007.868823)">68</text>
     </g>
    </g>
    <g id="text_82">
     <text style="font-size: 10px; font-family: 'DejaVu Sans', 'Liberation Sans', sans-serif; text-anchor: middle" x="994.696528" y="1152.510545" transform="rotate(-90 994.696528 1152.510545)">Transfer Rate (kBps)</text>
    </g>
   </g>
   <g id="line2d_78">
    <path d="M 126.520353 1209.003039 
L 203.015118 1207.521593 
L 279.509884 983.082445 
L 356.00465 1132.955451 
L 432.499416 1171.966876 
L 508.994182 980.613368 
L 585.488948 1246.28611 
L 661.983713 1094.437842 
L 738.478479 1323.321329 
L 814.973245 1075.91976 
L 891.468011 1064.808911 
" clip-path="url(#p0bf074ca2b)" style="fill: none; stroke: #0000ff; stroke-width: 1.7; stroke-linecap: square"/>
    <g clip-path="url(#p0bf074ca2b)">
     <path d="M 0 3 C 0.795609 3 1.55874 2.683901 2.12132 2.12132 C 2.683901 1.55874 3 0.795609 3 0 C 3 -0.795609 2.683901 -1.55874 2.12132 -2.12132 C 1.55874 -2.683901 0.795609 -3 0 -3 C -0.795609 -3 -1.55874 -2.683901 -2.12132 -2.12132 C -2.683901 -1.55874 -3 -0.795609 -3 0 C -3 0.795609 -2.683901 1.55874 -2.12132 2.12132 C -1.55874 2.683901 -0.795609 3 0 3 z" transform="translate(126.520353 1209.003039)" style="stroke: #0000ff; fill: #0000ff; stroke: #0000ff"/>
     <path d="M 0 3 C 0.795609 3 1.55874 2.683901 2.12132 2.12132 C 2.683901 1.55874 3 0.795609 3 0 C 3 -0.795609 2.683901 -1.55874 2.12132 -2.12132 C 1.55874 -2.683901 0.795609 -3 0 -3 C -0.795609 -3 -1.55874 -2.683901 -2.12132 -2.12132 C -2.683901 -1.55874 -3 -0.795609 -3 0 C -3 0.795609 -2.683901 1.55874 -2.12132 2.12132 C -1.55874 2.683901 -0.795609 3 0 3 z" transform="translate(203.015118 1207.521593)" style="stroke: #0000ff; fill: #0000ff; stroke: #0000ff"/>
     <path d="M 0 3 C 0.795609 3 1.55874 2.683901 2.12132 2.12132 C 2.683901 1.55874 3 0.795609 3 0 C 3 -0.795609 2.683901 -1.55874 2.12132 -2.12132 C 1.55874 -2.683901 0.795609 -3 0 -3 C -0.795609 -3 -1.55874 -2.683901 -2.12132 -2.12132 C -2.683901 -1.55874 -3 -0.795609 -3 0 C -3 0.795609 -2.683901 1.55874 -2.12132 2.12132 C -1.55874 2.683901 -0.795609 3 0 3 z" transform="translate(279.509884 983.082445)" style="stroke: #0000ff; fill: #0000ff; stroke: #0000ff"/>
     <path d="M 0 3 C 0.795609 3 1.55874 2.683901 2.12132 2.12132 C 2.683901 1.55874 3 0.795609 3 0 C 3 -0.795609 2.683901 -1.55874 2.12132 -2.12132 C 1.55874 -2.683901 0.795609 -3 0 -3 C -0.795609 -3 -1.55874 -2.683901 -2.12132 -2.12132 C -2.683901 -1.55874 -3 -0.795609 -3 0 C -3 0.795609 -2.683901 1.55874 -2.12132 2.12132 C -1.55874 2.683901 -0.795609 3 0 3 z" transform="translate(356.00465 1132.955451)" style="stroke: #0000ff; fill: #0000ff; stroke: #0000ff"/>
     <path d="M 0 3 C 0.795609 3 1.55874 2.683901 2.12132 2.12132 C 2.683901 1.55874 3 0.795609 3 0 C 3 -0.795609 2.683901 -1.55874 2.12132 -2.12132 C 1.55874 -2.683901 0.795609 -3 0 -3 C -0.795609 -3 -1.55874 -2.683901 -2.12132 -2.12132 C -2.683901 -1.55874 -3 -0.795609 -3 0 C -3 0.795609 -2.683901 1.55874 -2.12132 2.12132 C -1.55874 2.683901 -0.795609 3 0 3 z" transform="translate(432.499416 1171.966876)" style="stroke: #0000ff; fill: #0000ff; stroke: #0000ff"/>
     <path d="M 0 3 C 0.795609 3 1.55874 2.683901 2.12132 2.12132 C 2.683901 1.55874 3 0.795609 3 0 C 3 -0.795609 2.683901 -1.55874 2.12132 -2.12132 C 1.55874 -2.683901 0.795609 -3 0 -3 C -0.795609 -3 -1.55874 -2.683901 -2.12132 -2.12132 C -2.683901 -1.55874 -3 -0.795609 -3 0 C -3 0.795609 -2.683901 1.55874 -2.12132 2.12132 C -1.55874 2.683901 -0.795609 3 0 3 z" transform="translate(508.994182 980.613368)" style="stroke: #0000ff; fill: #0000ff; stroke: #0000ff"/>
     <path d="M 0 3 C 0.795609 3 1.55874 2.683901 2.12132 2.12132 C 2.683901 1.55874 3 0.795609 3 0 C 3 -0.795609 2.683901 -1.55874 2.12132 -2.12132 C 1.55874 -2.683901 0.795609 -3 0 -3 C -0.795609 -3 -1.55874 -2.683901 -2.12132 -2.12132 C -2.683901 -1.55874 -3 -0.795609 -3 0 C -3 0.795609 -2.683901 1.55874 -2.12132 2.12132 C -1.55874 2.683901 -0.795609 3 0 3 z" transform="translate(585.488948 1246.28611)" style="stroke: #0000ff; fill: #0000ff; stroke: #0000ff"/>
     <path d="M 0 3 C 0.795609 3 1.55874 2.683901 2.12132 2.12132 C 2.683901 1.55874 3 0.795609 3 0 C 3 -0.795609 2.683901 -1.55874 2.12132 -2.12132 C 1.55874 -2.683901 0.795609 -3 0 -3 C -0.795609 -3 -1.55874 -2.683901 -2.12132 -2.12132 C -2.683901 -1.55874 -3 -0.795609 -3 0 C -3 0.795609 -2.683901 1.55874 -2.12132 2.12132 C -1.55874 2.683901 -0.795609 3 0 3 z" transform="translate(661.983713 1094.437842)" style="stroke: #0000ff; fill: #0000ff; stroke: #0000ff"/>
     <path d="M 0 3 C 0.795609 3 1.55874 2.683901 2.12132 2.12132 C 2.683901 1.55874 3 0.795609 3 0 C 3 -0.795609 2.683901 -1.55874 2.12132 -2.12132 C 1.55874 -2.683901 0.795609 -3 0 -3 C -0.795609 -3 -1.55874 -2.683901 -2.12132 -2.12132 C -2.683901 -1.55874 -3 -0.795609 -3 0 C -3 0.795609 -2.683901 1.55874 -2.12132 2.12132 C -1.55874 2.683901 -0.795609 3 0 3 z" transform="translate(738.478479 1323.321329)" style="stroke: #0000ff; fill: #0000ff; stroke: #0000ff"/>
     <path d="M 0 3 C 0.795609 3 1.55874 2.683901 2.12132 2.12132 C 2.683901 1.55874 3 0.795609 3 0 C 3 -0.795609 2.683901 -1.55874 2.12132 -2.12132 C 1.55874 -2.683901 0.795609 -3 0 -3 C -0.795609 -3 -1.55874 -2.683901 -2.12132 -2.12132 C -2.683901 -1.55874 -3 -0.795609 -3 0 C -3 0.795609 -2.683901 1.55874 -2.12132 2.12132 C -1.55874 2.683901 -0.795609 3 0 3 z" transform="translate(814.973245 1075.91976)" style="stroke: #0000ff; fill: #0000ff; stroke: #0000ff"/>
     <path d="M 0 3 C 0.795609 3 1.55874 2.683901 2.12132 2.12132 C 2.683901 1.55874 3 0.795609 3 0 C 3 -0.795609 2.683901 -1.55874 2.12132 -2.12132 C 1.55874 -2.683901 0.795609 -3 0 -3 C -0.795609 -3 -1.55874 -2.683901 -2.12132 -2.12132 C -2.683901 -1.55874 -3 -0.795609 -3 0 C -3 0.795609 -2.683901 1.55874 -2.12132 2.12132 C -1.55874 2.683901 -0.795609 3 0 3 z" transform="translate(891.468011 1064.808911)" style="stroke: #0000ff; fill: #0000ff; stroke: #0000ff"/>
    </g>
   </g>
   <g id="legend_5">
    <g id="patch_45">
     <path d="M 820.768763 987.582661 
L 956.268091 987.582661 
Q 958.298091 987.582661 958.298091 985.552661 
L 958.298091 971.669364 
Q 958.298091 969.639364 956.268091 969.639364 
L 820.768763 969.639364 
Q 818.738763 969.639364 818.738763 971.669364 
L 818.738763 985.552661 
Q 818.738763 987.582661 820.768763 987.582661 
z
" style="fill: #ffffff; opacity: 0.8; stroke: #cccccc; stroke-linejoin: miter"/>
    </g>
    <g id="line2d_79">
     <path d="M 822.798763 977.859278 
L 832.948763 977.859278 
L 843.098763 977.859278 
" style="fill: none; stroke: #0000ff; stroke-width: 1.7; stroke-linecap: square"/>
     <g>
      <path d="M 0 3 C 0.795609 3 1.55874 2.683901 2.12132 2.12132 C 2.683901 1.55874 3 0.795609 3 0 C 3 -0.795609 2.683901 -1.55874 2.12132 -2.12132 C 1.55874 -2.683901 0.795609 -3 0 -3 C -0.795609 -3 -1.55874 -2.683901 -2.12132 -2.12132 C -2.683901 -1.55874 -3 -0.795609 -3 0 C -3 0.795609 -2.683901 1.55874 -2.12132 2.12132 C -1.55874 2.683901 -0.795609 3 0 3 z" transform="translate(832.948763 977.859278)" style="stroke: #0000ff; fill: #0000ff; stroke: #0000ff"/>
     </g>
    </g>
    <g id="text_83">
     <text style="font-size: 10.15px; font-family: 'DejaVu Sans', 'Liberation Sans', sans-serif; text-anchor: start" x="851.218763" y="981.411778" transform="rotate(-0 851.218763 981.411778)">Transfer Rate (kBps)</text>
    </g>
   </g>
  </g>
 </g>
 <defs>
  <clipPath id="pcf4a3bb9f0">
   <rect x="54.615273" y="22.725818" width="908.757818" height="377.816727"/>
  </clipPath>
  <clipPath id="p16bc7cfb53">
   <rect x="54.615273" y="22.725818" width="908.757818" height="377.816727"/>
  </clipPath>
  <clipPath id="p54ad374e96">
   <rect x="54.615273" y="493.736727" width="908.757818" height="376.992"/>
  </clipPath>
  <clipPath id="p0abddf0f60">
   <rect x="54.615273" y="964.564364" width="908.757818" height="375.892364"/>
  </clipPath>
  <clipPath id="p0bf074ca2b">
   <rect x="54.615273" y="964.564364" width="908.757818" height="375.892364"/>
  </clipPath>
 </defs>
</svg>

</body>
</html>
